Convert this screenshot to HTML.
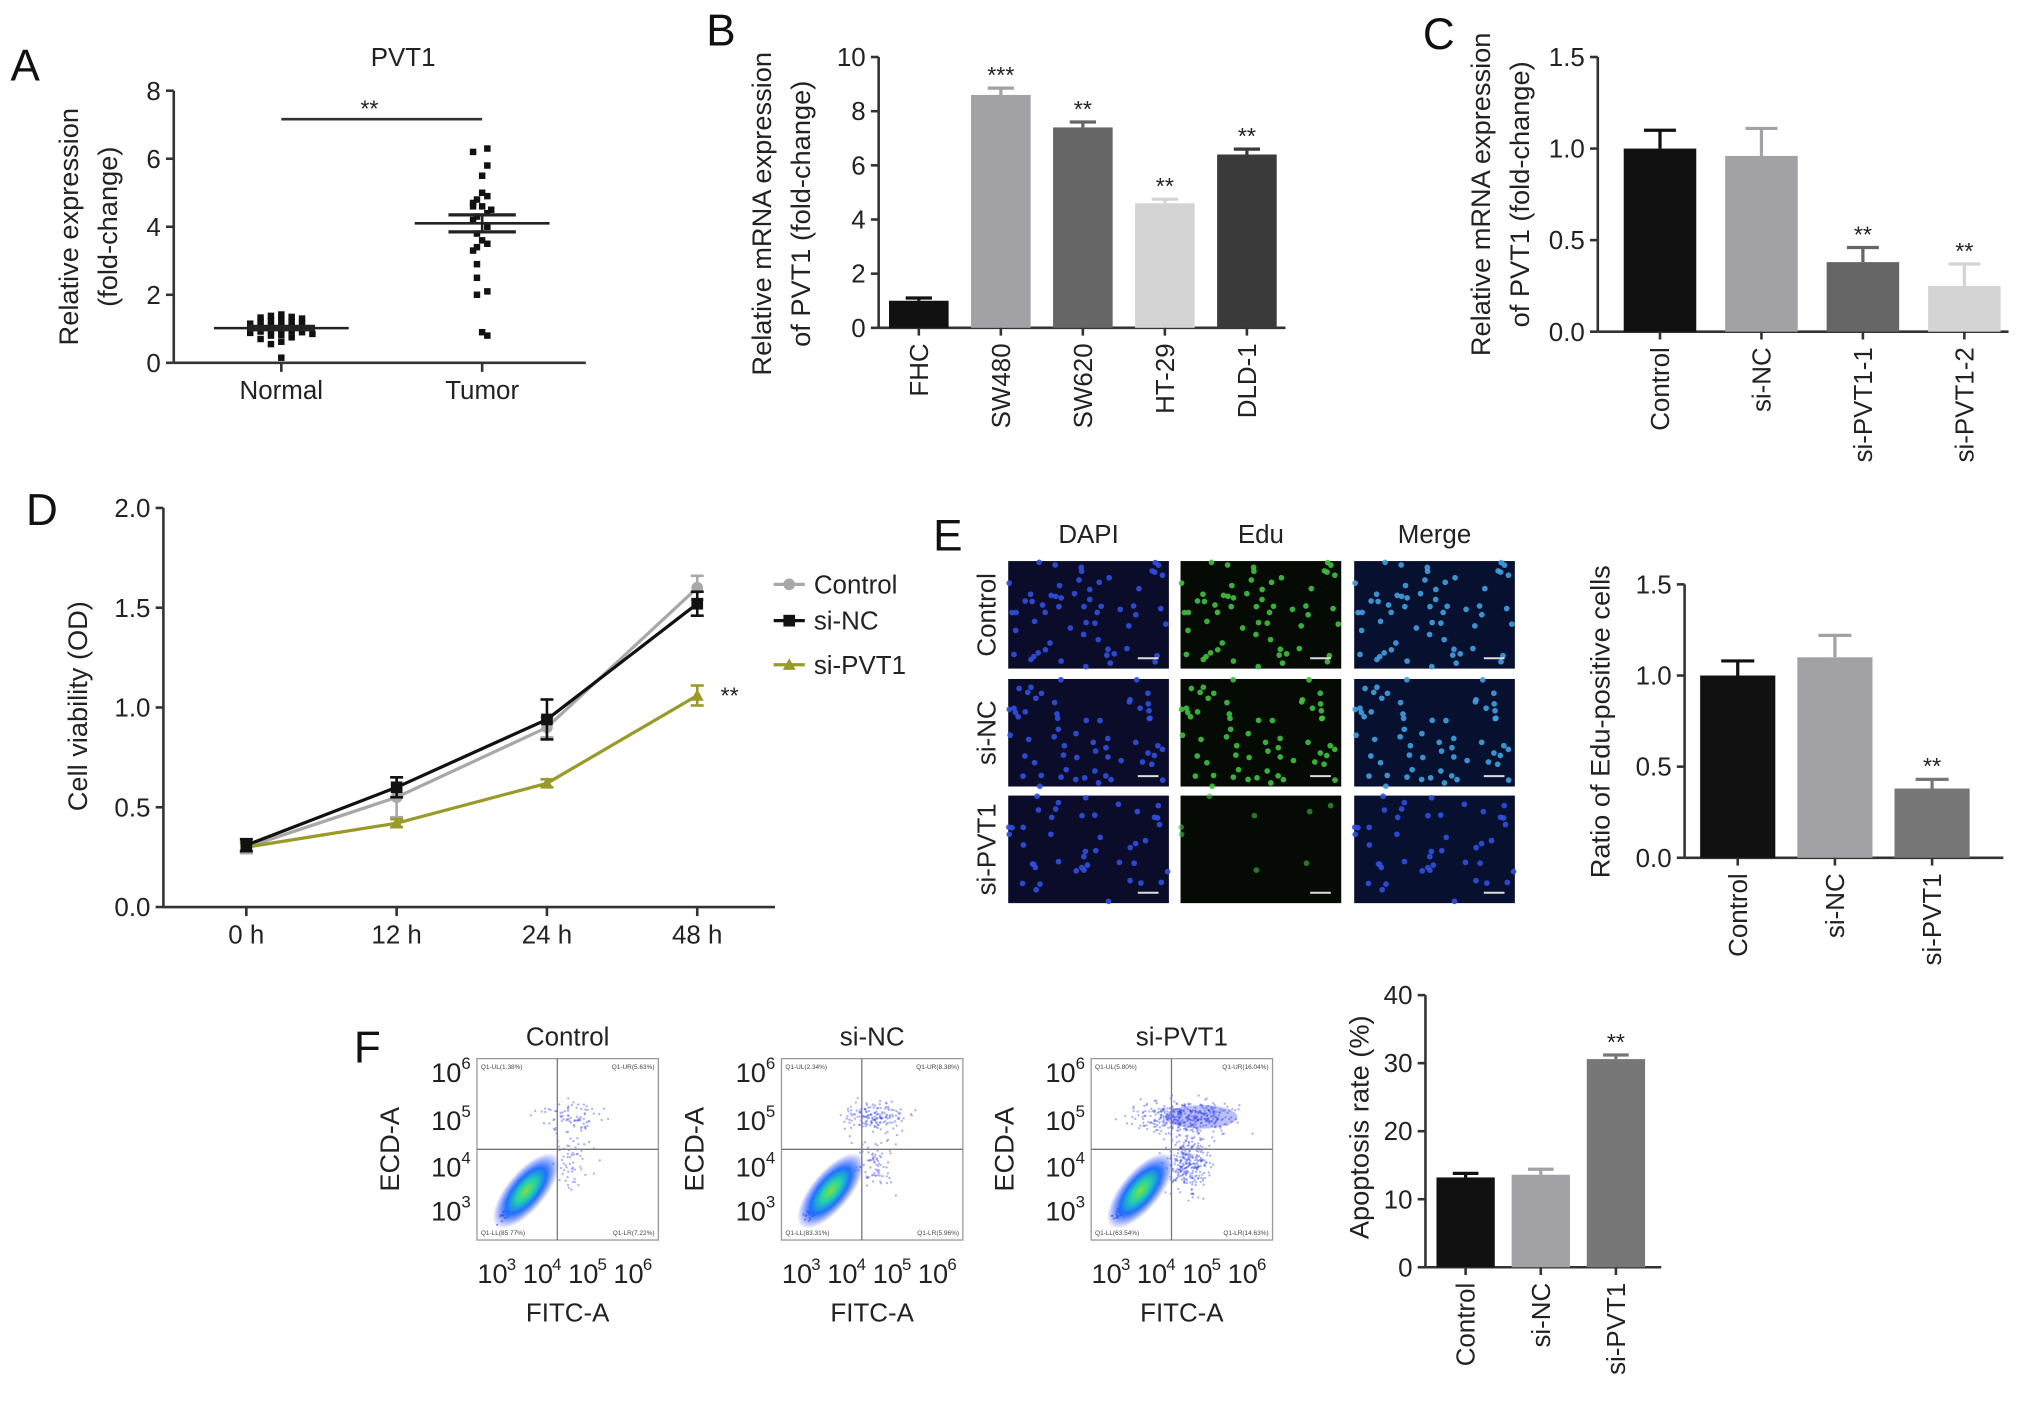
<!DOCTYPE html>
<html><head><meta charset="utf-8">
<style>
html,body{margin:0;padding:0;background:#fff;}
svg{display:block;font-family:"Liberation Sans",Arial,sans-serif;}
</style></head>
<body>
<svg id="fig" xmlns="http://www.w3.org/2000/svg" width="2032" height="1402" viewBox="0 0 1568 1082">
<defs>
<radialGradient id="dens" cx="50%" cy="50%" r="50%">
<stop offset="0%" stop-color="#7fe03a"/>
<stop offset="30%" stop-color="#20d0b0"/>
<stop offset="60%" stop-color="#2070ff"/>
<stop offset="100%" stop-color="#3040ff" stop-opacity="0"/>
</radialGradient>
</defs>
</svg>
<script>
// ---------- DATA ----------
const aCategories = ["Normal","Tumor"];
const aNormalValues = [1.42,1.38,1.35,1.33,1.3,1.28,1.25,1.22,1.2,1.18,1.15,1.12,1.1,1.08,1.05,1.03,1.0,0.98,0.96,0.94,0.92,0.9,0.88,0.85,0.82,0.8,0.75,0.7,0.62,0.55,0.15];
const aTumorValues = [6.3,6.2,5.8,5.5,5.0,4.9,4.8,4.7,4.6,4.6,4.5,4.4,4.3,4.2,4.0,3.8,3.6,3.5,3.4,3.3,2.9,2.5,2.1,2.0,0.9,0.8];
const aMeans = [1.02,4.1];
const aSem = [0.05,0.25];
const aTicks = [0,2,4,6,8];

const bCategories = ["FHC","SW480","SW620","HT-29","DLD-1"];
const bValues = [1.0,8.6,7.4,4.6,6.4];
const bErrors = [0.1,0.25,0.2,0.15,0.2];
const bStars = ["","***","**","**","**"];
const bTicks = [0,2,4,6,8,10];

const cCategories = ["Control","si-NC","si-PVT1-1","si-PVT1-2"];
const cValues = [1.0,0.96,0.38,0.25];
const cErrors = [0.1,0.15,0.08,0.12];
const cStars = ["","","**","**"];
const cTicks = [0,0.5,1.0,1.5];

const dTimes = ["0 h","12 h","24 h","48 h"];
const dControl = [0.3,0.55,0.9,1.6];
const dControlErr = [0.03,0.1,0.05,0.06];
const dSiNC = [0.31,0.6,0.94,1.52];
const dSiNCErr = [0.03,0.05,0.1,0.06];
const dSiPVT1 = [0.3,0.42,0.62,1.06];
const dSiPVT1Err = [0.02,0.02,0.02,0.05];
const dTicks = [0,0.5,1.0,1.5,2.0];

const eCategories = ["Control","si-NC","si-PVT1"];
const eValues = [1.0,1.1,0.38];
const eErrors = [0.08,0.12,0.05];
const eStars = ["","","**"];
const eTicks = [0,0.5,1.0,1.5];

const fCategories = ["Control","si-NC","si-PVT1"];
const fValues = [13.2,13.6,30.6];
const fErrors = [0.6,0.8,0.6];
const fStars = ["","","**"];
const fTicks = [0,10,20,30,40];
const fQuadLabels = [["Q1-UL(1.38%)","Q1-UR(5.63%)","Q1-LL(85.77%)","Q1-LR(7.22%)"],["Q1-UL(2.34%)","Q1-UR(8.38%)","Q1-LL(83.31%)","Q1-LR(5.96%)"],["Q1-UL(5.80%)","Q1-UR(16.04%)","Q1-LL(63.54%)","Q1-LR(14.63%)"]];

// ---------- HELPERS ----------
const svg = document.getElementById('fig');
const NS = 'http://www.w3.org/2000/svg';
function el(tag, attrs, parent, name){
  const e = document.createElementNS(NS, tag);
  for (const k in attrs) e.setAttribute(k, attrs[k]);
  
  
  (parent||svg).appendChild(e);
  return e;
}
function txt(s, x, y, size, parent, name, extra){
  const a = Object.assign({x:x, y:y, 'font-size':size, fill:'#222'}, extra||{});
  const t = el('text', a, parent, name);
  t.textContent = s;
  return t;
}
function linear(d0,d1,r0,r1){return v => r0 + (v-d0)/(d1-d0)*(r1-r0);}
let seed = 12345;
function rnd(){seed = (seed*16807)%2147483647; return (seed-1)/2147483646;}
function gauss(){return (rnd()+rnd()+rnd()+rnd()-2)/1.15;}

function yAxis(g, x, yS, ticks, fmt, name){
  el('line',{x1:x,y1:yS(ticks[ticks.length-1]),x2:x,y2:yS(ticks[0]),stroke:'#333','stroke-width':2},g,name+'-line');
  ticks.forEach(t=>{
    el('line',{x1:x-6,y1:yS(t),x2:x,y2:yS(t),stroke:'#333','stroke-width':2},g,name+'-tick');
    txt(fmt(t), x-10, yS(t)+7, 20, g, name+'-tick-label', {'text-anchor':'end'});
  });
}
function rotTitle(g, lines, x, y, size, name){
  lines.forEach((s,i)=>{
    txt(s, 0, 0, size, g, name, {'text-anchor':'middle', transform:`translate(${x+i*30},${y}) rotate(-90)`});
  });
}
function barChart(g, opt){
  const yS = linear(opt.ticks[0], opt.ticks[opt.ticks.length-1], opt.y0, opt.y1);
  yAxis(g, opt.x0, yS, opt.ticks, opt.fmt, opt.name+'-y-axis');
  el('line',{x1:opt.x0,y1:opt.y0,x2:opt.xEnd,y2:opt.y0,stroke:'#333','stroke-width':2},g,opt.name+'-x-axis');
  opt.cats.forEach((c,i)=>{
    const cx = opt.x0 + opt.first + i*opt.step;
    const top = yS(opt.values[i]);
    const et = yS(opt.values[i]+opt.errors[i]);
    el('line',{x1:cx,y1:top,x2:cx,y2:et,stroke:opt.colors[i],'stroke-width':2.5},g,opt.name+'-error-bar');
    el('line',{x1:cx-opt.bw*0.22,y1:et,x2:cx+opt.bw*0.22,y2:et,stroke:opt.colors[i],'stroke-width':2.5},g,opt.name+'-error-cap');
    el('rect',{x:cx-opt.bw/2,y:top,width:opt.bw,height:opt.y0-top,fill:opt.colors[i]},g,opt.name+'-bar-'+c.toLowerCase());
    if (opt.stars[i]) txt(opt.stars[i], cx, et-4, 18, g, opt.name+'-significance', {'text-anchor':'middle'});
    el('line',{x1:cx,y1:opt.y0,x2:cx,y2:opt.y0+6,stroke:'#333','stroke-width':2},g,opt.name+'-x-tick');
    txt(c, 0, 0, 20, g, opt.name+'-x-label', {'text-anchor':'end', transform:`translate(${cx+7},${opt.y0+12}) rotate(-90)`});
  });
}
function panelLabel(s,x,y){ txt(s,x,y,34,svg,'panel-label-'+s.toLowerCase(),{fill:'#111'}); }

// ---------- PANEL A ----------
(function(){
  const g = el('g',{},svg,'panel-a');
  panelLabel('A',8,62);
  const yS = linear(0,8,280,70);
  txt('PVT1',311,51,20,g,'panel-a-title',{'text-anchor':'middle'});
  yAxis(g,134,yS,aTicks,v=>String(v),'panel-a-y-axis');
  el('line',{x1:134,y1:280,x2:452,y2:280,stroke:'#333','stroke-width':2},g,'panel-a-x-axis');
  rotTitle(g,['Relative expression','(fold-change)'],60,175,21,'panel-a-y-title');
  const xs=[217,372];
  aCategories.forEach((c,i)=>{
    el('line',{x1:xs[i],y1:280,x2:xs[i],y2:287,stroke:'#333','stroke-width':2},g,'panel-a-x-tick');
    txt(c,xs[i],308,20,g,'panel-a-x-label',{'text-anchor':'middle'});
  });
  const groups=[aNormalValues,aTumorValues];
  groups.forEach((vals,gi)=>{
    const cnt={};
    vals.forEach(v=>{
      const key=Math.round(yS(v)/4);
      cnt[key]=(cnt[key]||0)+1;
      const k=cnt[key]-1;
      const off=(k%2===0?1:-1)*Math.ceil(k/2)*(gi===0?8:7) + (gi===1 && k===0 ? (key%3-1)*4 : 0);
      el('rect',{x:xs[gi]+off-2.5,y:yS(v)-2.5,width:5,height:5,fill:'#111'},g,'panel-a-data-point');
    });
    el('line',{x1:xs[gi]-52,y1:yS(aMeans[gi]),x2:xs[gi]+52,y2:yS(aMeans[gi]),stroke:'#222','stroke-width':2},g,'panel-a-mean-line');
    el('line',{x1:xs[gi]-26,y1:yS(aMeans[gi]+aSem[gi]),x2:xs[gi]+26,y2:yS(aMeans[gi]+aSem[gi]),stroke:'#222','stroke-width':2.5},g,'panel-a-sem-upper');
    el('line',{x1:xs[gi]-26,y1:yS(aMeans[gi]-aSem[gi]),x2:xs[gi]+26,y2:yS(aMeans[gi]-aSem[gi]),stroke:'#222','stroke-width':2.5},g,'panel-a-sem-lower');
    el('line',{x1:xs[gi],y1:yS(aMeans[gi]+aSem[gi]),x2:xs[gi],y2:yS(aMeans[gi]-aSem[gi]),stroke:'#222','stroke-width':2},g,'panel-a-sem-stem');
  });
  el('line',{x1:217,y1:92,x2:372,y2:92,stroke:'#333','stroke-width':2},g,'panel-a-significance-bar');
  txt('**',285,90,18,g,'panel-a-significance',{'text-anchor':'middle'});
})();

// ---------- PANEL B ----------
(function(){
  const g = el('g',{},svg,'panel-b');
  panelLabel('B',545,35);
  barChart(g,{name:'panel-b',cats:bCategories,values:bValues,errors:bErrors,stars:bStars,ticks:bTicks,fmt:v=>String(v),
    x0:678,xEnd:992,y0:253,y1:44,first:31,step:63.3,bw:46,colors:['#111','#a2a2a6','#666','#d4d4d4','#3a3a3a']});
  rotTitle(g,['Relative mRNA expression','of PVT1 (fold-change)'],595,165,21,'panel-b-y-title');
})();

// ---------- PANEL C ----------
(function(){
  const g = el('g',{},svg,'panel-c');
  panelLabel('C',1098,38);
  barChart(g,{name:'panel-c',cats:cCategories,values:cValues,errors:cErrors,stars:cStars,ticks:cTicks,fmt:v=>v.toFixed(1),
    x0:1233,xEnd:1550,y0:256,y1:44,first:48,step:78.3,bw:56,colors:['#111','#a2a2a6','#666','#d4d4d4']});
  rotTitle(g,['Relative mRNA expression','of PVT1 (fold-change)'],1150,150,21,'panel-c-y-title');
})();

// ---------- PANEL D ----------
(function(){
  const g = el('g',{},svg,'panel-d');
  panelLabel('D',20,405);
  const yS = linear(0,2,700,392);
  const xS = i => 190 + i*116;
  yAxis(g,126,yS,dTicks,v=>v.toFixed(1),'panel-d-y-axis');
  el('line',{x1:126,y1:700,x2:598,y2:700,stroke:'#333','stroke-width':2},g,'panel-d-x-axis');
  dTimes.forEach((t,i)=>{
    el('line',{x1:xS(i),y1:700,x2:xS(i),y2:707,stroke:'#333','stroke-width':2},g,'panel-d-x-tick');
    txt(t,xS(i),728,20,g,'panel-d-x-label',{'text-anchor':'middle'});
  });
  rotTitle(g,['Cell viability (OD)'],67,545,21,'panel-d-y-title');
  const series=[
    {n:'control',v:dControl,e:dControlErr,c:'#a8a8a8',m:'circle'},
    {n:'si-pvt1',v:dSiPVT1,e:dSiPVT1Err,c:'#9a9a28',m:'tri'},
    {n:'si-nc',v:dSiNC,e:dSiNCErr,c:'#111',m:'square'}];
  series.forEach(s=>{
    const pts=s.v.map((v,i)=>xS(i)+','+yS(v)).join(' ');
    el('polyline',{points:pts,fill:'none',stroke:s.c,'stroke-width':2.5},g,'panel-d-line-'+s.n);
    s.v.forEach((v,i)=>{
      const x=xS(i),y=yS(v),y1=yS(v+s.e[i]),y2=yS(v-s.e[i]);
      el('line',{x1:x,y1:y1,x2:x,y2:y2,stroke:s.c,'stroke-width':2},g,'panel-d-error-'+s.n);
      el('line',{x1:x-5,y1:y1,x2:x+5,y2:y1,stroke:s.c,'stroke-width':2},g,'panel-d-error-cap-'+s.n);
      el('line',{x1:x-5,y1:y2,x2:x+5,y2:y2,stroke:s.c,'stroke-width':2},g,'panel-d-error-cap-'+s.n);
      if(s.m==='circle') el('circle',{cx:x,cy:y,r:4.5,fill:s.c},g,'panel-d-point-'+s.n);
      else if(s.m==='square') el('rect',{x:x-4.5,y:y-4.5,width:9,height:9,fill:s.c},g,'panel-d-point-'+s.n);
      else el('polygon',{points:`${x},${y-5} ${x-5},${y+4} ${x+5},${y+4}`,fill:s.c},g,'panel-d-point-'+s.n);
    });
  });
  txt('**',xS(3)+18,yS(dSiPVT1[3])+6,18,g,'panel-d-significance');
  const leg=[['Control','#a8a8a8','circle',451],['si-NC','#111','square',479],['si-PVT1','#9a9a28','tri',513]];
  leg.forEach(l=>{
    const lg=el('g',{},g,'legend-entry-'+l[0].toLowerCase());
    el('line',{x1:597,y1:l[3],x2:621,y2:l[3],stroke:l[1],'stroke-width':2.5},lg,'legend-line');
    if(l[2]==='circle') el('circle',{cx:609,cy:l[3],r:4.5,fill:l[1]},lg,'legend-marker');
    else if(l[2]==='square') el('rect',{x:604.5,y:l[3]-4.5,width:9,height:9,fill:l[1]},lg,'legend-marker');
    else el('polygon',{points:`609,${l[3]-5} 604,${l[3]+4} 614,${l[3]+4}`,fill:l[1]},lg,'legend-marker');
    txt(l[0],628,l[3]+7,20,lg,'legend-label');
  });
})();

// ---------- PANEL E ----------
(function(){
  const g = el('g',{},svg,'panel-e');
  panelLabel('E',720,425);
  const cols=[778,911,1045], rows=[433,524,614], W=124, H=83;
  ['DAPI','Edu','Merge'].forEach((h,i)=>txt(h,cols[i]+W/2,419,20,g,'panel-e-column-header',{'text-anchor':'middle'}));
  ['Control','si-NC','si-PVT1'].forEach((r,i)=>txt(r,0,0,20,g,'panel-e-row-label',{'text-anchor':'middle',transform:`translate(${768},${rows[i]+H/2}) rotate(-90)`}));
  const bg=['#0a0c2a','#050a05','#081030'];
  const dotC=['#3050e0','#40c040','#40a0e0'];
  rows.forEach((ry,ri)=>{
    seed = 777+ri*31;
    const cells=[]; const n = ri===2?45:60;
    for(let k=0;k<n;k++) cells.push([rnd()*W, rnd()*H]);
    cols.forEach((cx,ci)=>{
      const ig=el('g',{},g,'panel-e-image');
      el('rect',{x:cx,y:ry,width:W,height:H,fill:bg[ci]},ig,'panel-e-image-bg');
      cells.forEach((p,k)=>{
        let c=dotC[ci];
        if(ri===2 && ci===1 && k%6!==0) return;
        if(ri===2 && ci===2) c='#3050e0';
        el('circle',{cx:cx+p[0],cy:ry+p[1],r:2.2,fill:c,opacity:(ri===2&&ci===1)?0.6:0.9},ig,'panel-e-cell');
      });
      el('line',{x1:cx+W-24,y1:ry+H-8,x2:cx+W-8,y2:ry+H-8,stroke:'#ddd','stroke-width':1.5},ig,'panel-e-scale-bar');
    });
  });
  barChart(g,{name:'panel-e',cats:eCategories,values:eValues,errors:eErrors,stars:eStars,ticks:eTicks,fmt:v=>v.toFixed(1),
    x0:1300,xEnd:1546,y0:662,y1:451,first:41,step:75,bw:58,colors:['#111','#a2a2a6','#777']});
  rotTitle(g,['Ratio of Edu-positive cells'],1242,557,21,'panel-e-y-title');
})();

// ---------- PANEL F ----------
(function(){
  const g = el('g',{},svg,'panel-f');
  panelLabel('F',273,820);
  const px=[368,603,842], titles=['Control','si-NC','si-PVT1'];
  const W=140,H=140,top=817;
  px.forEach((x0,pi)=>{
    const fg=el('g',{},g,'flow-plot-'+titles[pi].toLowerCase());
    txt(titles[pi],x0+70,807,20,fg,'flow-plot-title',{'text-anchor':'middle'});
    el('rect',{x:x0,y:top,width:W,height:H,fill:'#fff',stroke:'#999','stroke-width':1},fg,'flow-plot-frame');
    seed=999+pi*57;
    const nCore = 700, nUp = [80,160,380][pi], nMid=[60,80,300][pi];
    for(let k=0;k<nCore;k++){const t=gauss()*0.9,s=gauss()*0.35;
      const x=x0+35+t*14+s*8, y=top+H-35-t*16+s*6;
      if(x>x0&&x<x0+W&&y>top&&y<top+H) el('circle',{cx:x,cy:y,r:0.9,fill:'#2a3cf0',opacity:0.5},fg,'flow-event');}
    for(let k=0;k<nUp;k++){const x=x0+72+gauss()*24*(pi===2?1.6:1), y=top+45+gauss()*12;
      if(x>x0&&x<x0+W&&y>top&&y<top+H) el('circle',{cx:x,cy:y,r:0.9,fill:'#3040f0',opacity:0.4},fg,'flow-event');}
    for(let k=0;k<nMid;k++){const x=x0+75+gauss()*16, y=top+80+gauss()*22;
      if(x>x0&&x<x0+W&&y>top&&y<top+H) el('circle',{cx:x,cy:y,r:0.9,fill:'#3040f0',opacity:0.4},fg,'flow-event');}
    el('ellipse',{cx:x0+38,cy:top+H-38,rx:36,ry:15,fill:'url(#dens)',transform:`rotate(-50 ${x0+38} ${top+H-38})`},fg,'flow-density-core');
    if(pi===2) el('ellipse',{cx:x0+85,cy:top+45,rx:28,ry:9,fill:'#2030e0',opacity:0.3},fg,'flow-density-upper');
    el('line',{x1:x0+62,y1:top,x2:x0+62,y2:top+H,stroke:'#777','stroke-width':1},fg,'flow-quadrant-v');
    el('line',{x1:x0,y1:top+70,x2:x0+W,y2:top+70,stroke:'#777','stroke-width':1},fg,'flow-quadrant-h');
    const q=fQuadLabels[pi];
    txt(q[0],x0+3,top+8,5,fg,'flow-quadrant-label',{fill:'#444'});
    txt(q[1],x0+W-3,top+8,5,fg,'flow-quadrant-label',{fill:'#444','text-anchor':'end'});
    txt(q[2],x0+3,top+H-4,5,fg,'flow-quadrant-label',{fill:'#444'});
    txt(q[3],x0+W-3,top+H-4,5,fg,'flow-quadrant-label',{fill:'#444','text-anchor':'end'});
    [['6',835],['5',872],['4',908],['3',942]].forEach(t=>{
      txt('10',x0-12,t[1],21,fg,'flow-y-tick-label',{'text-anchor':'end'});
      txt(t[0],x0-12,t[1]-10,13,fg,'flow-y-tick-exp');
    });
    [['3',20],['4',55],['5',90],['6',125]].forEach(t=>{
      txt('10',x0+t[1]-8,990,21,fg,'flow-x-tick-label',{'text-anchor':'middle'});
      txt(t[0],x0+t[1]+3,980,13,fg,'flow-x-tick-exp');
    });
    txt('FITC-A',x0+70,1020,20,fg,'flow-x-title',{'text-anchor':'middle'});
    txt('ECD-A',0,0,21,fg,'flow-y-title',{'text-anchor':'middle',transform:`translate(${x0-60},${top+70}) rotate(-90)`});
  });
  barChart(g,{name:'panel-f',cats:fCategories,values:fValues,errors:fErrors,stars:fStars,ticks:fTicks,fmt:v=>String(v),
    x0:1100,xEnd:1282,y0:978,y1:768,first:31,step:58,bw:45,colors:['#111','#a2a2a6','#777']});
  rotTitle(g,['Apoptosis rate (%)'],1056,870,21,'panel-f-y-title');
})();
</script>
</body></html>
